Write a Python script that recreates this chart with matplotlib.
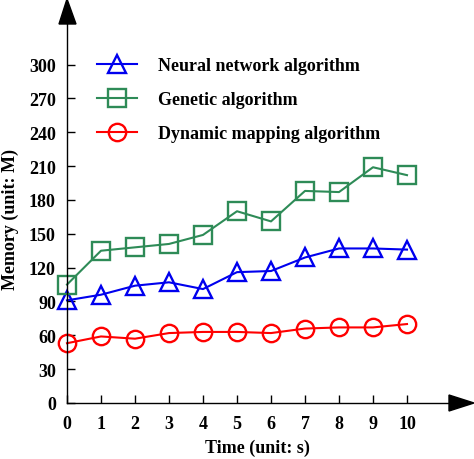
import matplotlib
matplotlib.use("Agg")
import matplotlib.pyplot as plt
from matplotlib.lines import Line2D

plt.rcParams['font.family'] = ['Liberation Serif', 'DejaVu Serif']
plt.rcParams['font.weight'] = 'bold'

time_s = [0, 1, 2, 3, 4, 5, 6, 7, 8, 9, 10]
neural = [91, 96, 104, 107, 101, 116, 117, 129, 137, 137, 136]
genetic = [105, 135, 138, 141, 149, 170, 161, 188, 187, 209, 202]
dynamic = [53, 59, 57, 62, 63, 63, 62, 66, 67, 67, 70]
series_names = ["Neural network algorithm", "Genetic algorithm", "Dynamic mapping algorithm"]
y_ticks = [0, 30, 60, 90, 120, 150, 180, 210, 240, 270, 300]

W, H = 474, 460
fig = plt.figure(figsize=(W / 100, H / 100), dpi=100)
x0, y0 = 67, 404
ax = fig.add_axes([x0 / W, (H - y0) / H, (W - x0) / W, y0 / H])
px_per_x = 34.0
px_per_y = 1.128
ax.set_xlim(0, (W - x0) / px_per_x)
ax.set_ylim(0, y0 / px_per_y)

blue = "#0000EE"
green = "#2E8B57"
red = "#FF0000"
ms = 12.5
mew = 1.7
lw = 1.5
ax.plot(time_s, neural, color=blue, marker='^', ms=ms, mfc='none', mec=blue, mew=mew, lw=lw, clip_on=False)
ax.plot(time_s, genetic, color=green, marker='s', ms=ms, mfc='none', mec=green, mew=mew, lw=lw, clip_on=False)
ax.plot(time_s, dynamic, color=red, marker='o', ms=ms, mfc='none', mec=red, mew=mew, lw=lw, clip_on=False)

for s in ax.spines.values():
    s.set_visible(False)

# axes with arrows
ax.plot([0, 0], [0, (y0 - 25) / px_per_y], color='black', lw=1.0, clip_on=False)
ax.plot([0, (449 - x0) / px_per_x], [0, 0], color='black', lw=1.0, clip_on=False)
tri_y = plt.Polygon([[(59 - x0) / px_per_x, (y0 - 25) / px_per_y],
                     [(76 - x0) / px_per_x, (y0 - 25) / px_per_y],
                     [0, y0 / px_per_y]], closed=True, color='black', clip_on=False)
tri_x = plt.Polygon([[(449 - x0) / px_per_x, 8 / px_per_y],
                     [(449 - x0) / px_per_x, -8 / px_per_y],
                     [(474 - x0) / px_per_x, 0]], closed=True, color='black', clip_on=False)
ax.add_patch(tri_y)
ax.add_patch(tri_x)

ax.set_xticks(time_s)
ax.set_xticklabels([str(t) for t in time_s])
ax.set_yticks(y_ticks)
ax.set_yticklabels([str(v) for v in y_ticks])
ax.tick_params(direction='in', length=6, width=1.0, labelsize=13)
ax.tick_params(axis='y', pad=8)
ax.tick_params(axis='x', pad=9)
for lab in ax.get_xticklabels() + ax.get_yticklabels():
    lab.set_fontweight('bold')

ax.set_xlabel("Time (unit: s)", fontsize=13, fontweight='bold')
ax.set_ylabel("Memory (unit: M)", fontsize=13, fontweight='bold')
ax.xaxis.set_label_coords((257 - x0) / (W - x0), -(448 - y0) / y0)
ax.yaxis.set_label_coords((10 - x0) / (W - x0), (y0 - 220) / y0)
ax.xaxis.label.set_va('center')
ax.yaxis.label.set_va('center')

handles = [
    Line2D([], [], color=blue, marker='^', ms=ms, mfc='none', mec=blue, mew=mew, lw=lw),
    Line2D([], [], color=green, marker='s', ms=ms, mfc='none', mec=green, mew=mew, lw=lw),
    Line2D([], [], color=red, marker='o', ms=ms, mfc='none', mec=red, mew=mew, lw=lw),
]
leg = ax.legend(handles, series_names, loc='upper left',
                bbox_to_anchor=((97 - x0) / (W - x0), (y0 - 58) / y0),
                frameon=False, fontsize=13, handlelength=2.2, handletextpad=1.2,
                labelspacing=0.95, borderaxespad=0, borderpad=0)
for t in leg.get_texts():
    t.set_fontweight('bold')

fig.savefig("out.png", dpi=100)
